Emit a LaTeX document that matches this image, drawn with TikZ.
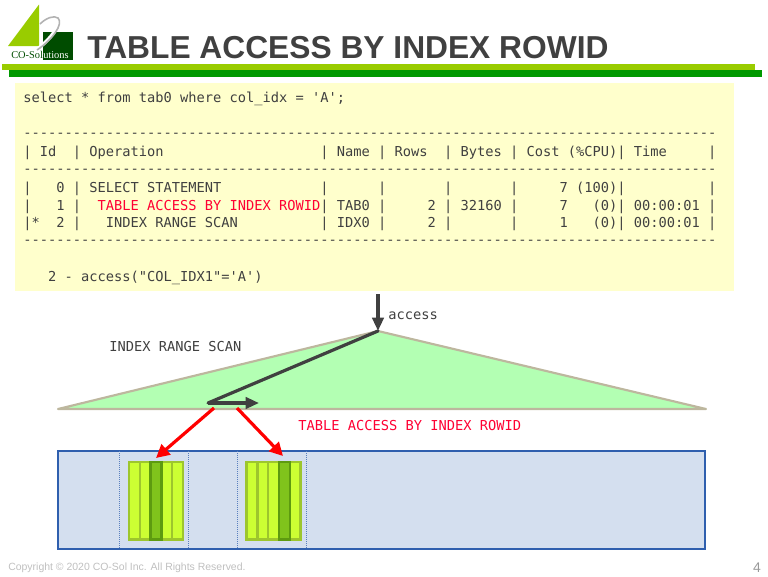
\documentclass[tikz,border=0pt]{standalone}
\usepackage{fontspec}
\setmainfont{Liberation Sans}
\newfontfamily\planfont{DejaVu Sans Mono}
\newfontfamily\logofont{Liberation Serif}
\usetikzlibrary{arrows.meta,calc}
\definecolor{inkgray}{HTML}{404040}
\definecolor{barlight}{HTML}{99CC00}
\definecolor{bardark}{HTML}{009900}
\definecolor{planbg}{HTML}{FFFFCC}
\definecolor{treefill}{HTML}{B3FFB3}
\definecolor{treeline}{HTML}{BDB79E}
\definecolor{tablefill}{HTML}{D4DFEF}
\definecolor{tableline}{HTML}{2F5FAE}
\definecolor{rowfill}{HTML}{CCFF33}
\definecolor{rowline}{HTML}{9DC62D}
\definecolor{hitfill}{HTML}{80C31C}
\definecolor{hitline}{HTML}{5D9A10}
\definecolor{planred}{HTML}{FF0033}
\newcommand{\planrule}{-{}-{}-{}-{}-{}-{}-{}-{}-{}-{}-{}-{}-{}-{}-{}-{}-{}-{}-{}-{}-{}-{}-{}-{}-{}-{}-{}-{}-{}-{}-{}-{}-{}-{}-{}-{}-{}-{}-{}-{}-{}-{}-{}-{}-{}-{}-{}-{}-{}-{}-{}-{}-{}-{}-{}-{}-{}-{}-{}-{}-{}-{}-{}-{}-{}-{}-{}-{}-{}-{}-{}-{}-{}-{}-{}-{}-{}-{}-{}-{}-{}-{}-{}-}
\tikzset{
  plan/.style     = {anchor=west, inner sep=0pt, text=inkgray,
                     font=\planfont\fontsize{10.28pt}{12pt}\selectfont},
  darkflow/.style = {-{Triangle[length=10pt,width=8.5pt]}, line width=2.4pt, draw=inkgray},
  redflow/.style  = {-{Triangle[length=10pt,width=10pt]}, line width=2.4pt, draw=red},
  stripe/.style   = {draw=rowline, fill=rowfill, line width=1.9pt},
  hitstripe/.style= {draw=hitline, fill=hitfill, line width=1.9pt},
  section/.style  = {draw=tableline!80, densely dotted, line width=.5pt},
}
\begin{document}
\begin{tikzpicture}[x=.75pt,y=-.75pt]
    \useasboundingbox (0,0) rectangle (768,576);
    % logo
    \fill[barlight] (39,4.5) -- (8,46) -- (39,46) -- cycle;
    \fill[green!30!black] (43,32) rectangle (73,60);
    \draw[white,line width=2.5pt] (36,50) .. controls (50,40) and (62,24) .. (58,18);
    \draw[gray!60,line width=1.2pt] (37,50) .. controls (52,40) and (64,24) .. (58,18) .. controls (54,15) and (46,18) .. (40,24);
    \node[anchor=west,inner sep=0pt,text=green!30!black,font=\logofont\fontsize{7.8pt}{8pt}\selectfont] (logoleft) at (11,55) {CO-Sol};
    \node[anchor=west,inner sep=0pt,text=white,font=\logofont\fontsize{7.8pt}{8pt}\selectfont] (logoright) at (43,55) {utions};
    % title and bars
    \node[anchor=west,inner sep=0pt,text=inkgray,font=\bfseries\fontsize{23.8pt}{26pt}\selectfont] (title) at (87,48) {TABLE ACCESS BY INDEX ROWID};
    \fill[bardark] (9,70) rectangle (762,77);
    \fill[barlight] (2,64) rectangle (755,70);
    % plan
    \fill[planbg] (15,83) rectangle (734,291);
    \node[plan] (sql) at (23,99) {select * from tab0 where col\_idx = 'A';};
    \node[plan] (rule1) at (23,135) {\planrule};
    \node[plan] (head) at (23,153) {|~Id~~|~Operation~~~~~~~~~~~~~~~~~~~|~Name~|~Rows~~|~Bytes~|~Cost~(\%CPU)|~Time~~~~~|};
    \node[plan] (rule2) at (23,171) {\planrule};
    \node[plan] (row0) at (23,189) {|~~~0~|~SELECT~STATEMENT~~~~~~~~~~~~|~~~~~~|~~~~~~~|~~~~~~~|~~~~~7~(100)|~~~~~~~~~~|};
    \node[plan] (row1) at (23,206.5) {|~~~1~|~~\textcolor{planred}{TABLE~ACCESS~BY~INDEX~ROWID}|~TAB0~|~~~~~2~|~32160~|~~~~~7~~~(0)|~00:00:01~|};
    \node[plan] (row2) at (23,224) {|*~~2~|~~~INDEX~RANGE~SCAN~~~~~~~~~~|~IDX0~|~~~~~2~|~~~~~~~|~~~~~1~~~(0)|~00:00:01~|};
    \node[plan] (rule3) at (23,242) {\planrule};
    \node[plan] (pred) at (23,278) {~~~2~-~access("COL\_IDX1"='A')};
    % index tree
    \coordinate (treetop) at (378,331);
    \coordinate (treeleft) at (58,409);
    \coordinate (treeright) at (706,409);
    \coordinate (accessin) at (378,294);
    \coordinate (leaf) at (208,403);
    \coordinate (leafnext) at (259,403);
    \draw[treeline,fill=treefill,line width=1.6pt,line join=round] (treetop) -- (treeright) -- (treeleft) -- cycle;
    \draw[darkflow] (accessin) -- (treetop);
    \draw[inkgray,line width=2.4pt,line cap=round] (treetop) -- (leaf);
    \draw[darkflow] (leaf) -- (leafnext);
    \node[plan] (accesstxt) at (388,316) {access};
    \node[plan] (scantxt) at (109,347) {INDEX RANGE SCAN};
    \node[plan,text=planred] (rowidtxt) at (298,426) {TABLE ACCESS BY INDEX ROWID};
    % table
    \draw[tableline,fill=tablefill,line width=1.6pt] (58,451) rectangle (705,549);
    \foreach \xa in {119.5,188,237,306}
      \draw[section] (\xa,451) -- (\xa,549);
    % rows
    \foreach \i in {0,...,4} {
      \draw[stripe] ({129+\i*10.8},462) rectangle ({139.8+\i*10.8},539.5);
      \draw[stripe] ({246.5+\i*10.8},462) rectangle ({257.3+\i*10.8},539.5);
    }
    \draw[hitstripe] (150.6,462) rectangle (161.4,539.5);
    \draw[hitstripe] (279,462) rectangle (289.8,539.5);
    % rowid access
    \coordinate (fromleft) at (214,408);
    \coordinate (fromright) at (237,408);
    \coordinate (toleft) at (156,458);
    \coordinate (toright) at (283,456);
    \draw[redflow] (fromleft) -- (toleft);
    \draw[redflow] (fromright) -- (toright);
    % footer
    \node[anchor=west,inner sep=0pt,text=gray!50,font=\fontsize{7.85pt}{9pt}\selectfont] (copyright) at (8,568) {Copyright © 2020 CO-Sol Inc. All Rights Reserved.};
    \node[anchor=center,inner sep=0pt,text=gray!80,font=\fontsize{10.5pt}{12pt}\selectfont] (pageno) at (757,568) {4};
  \end{tikzpicture}
\end{document}
